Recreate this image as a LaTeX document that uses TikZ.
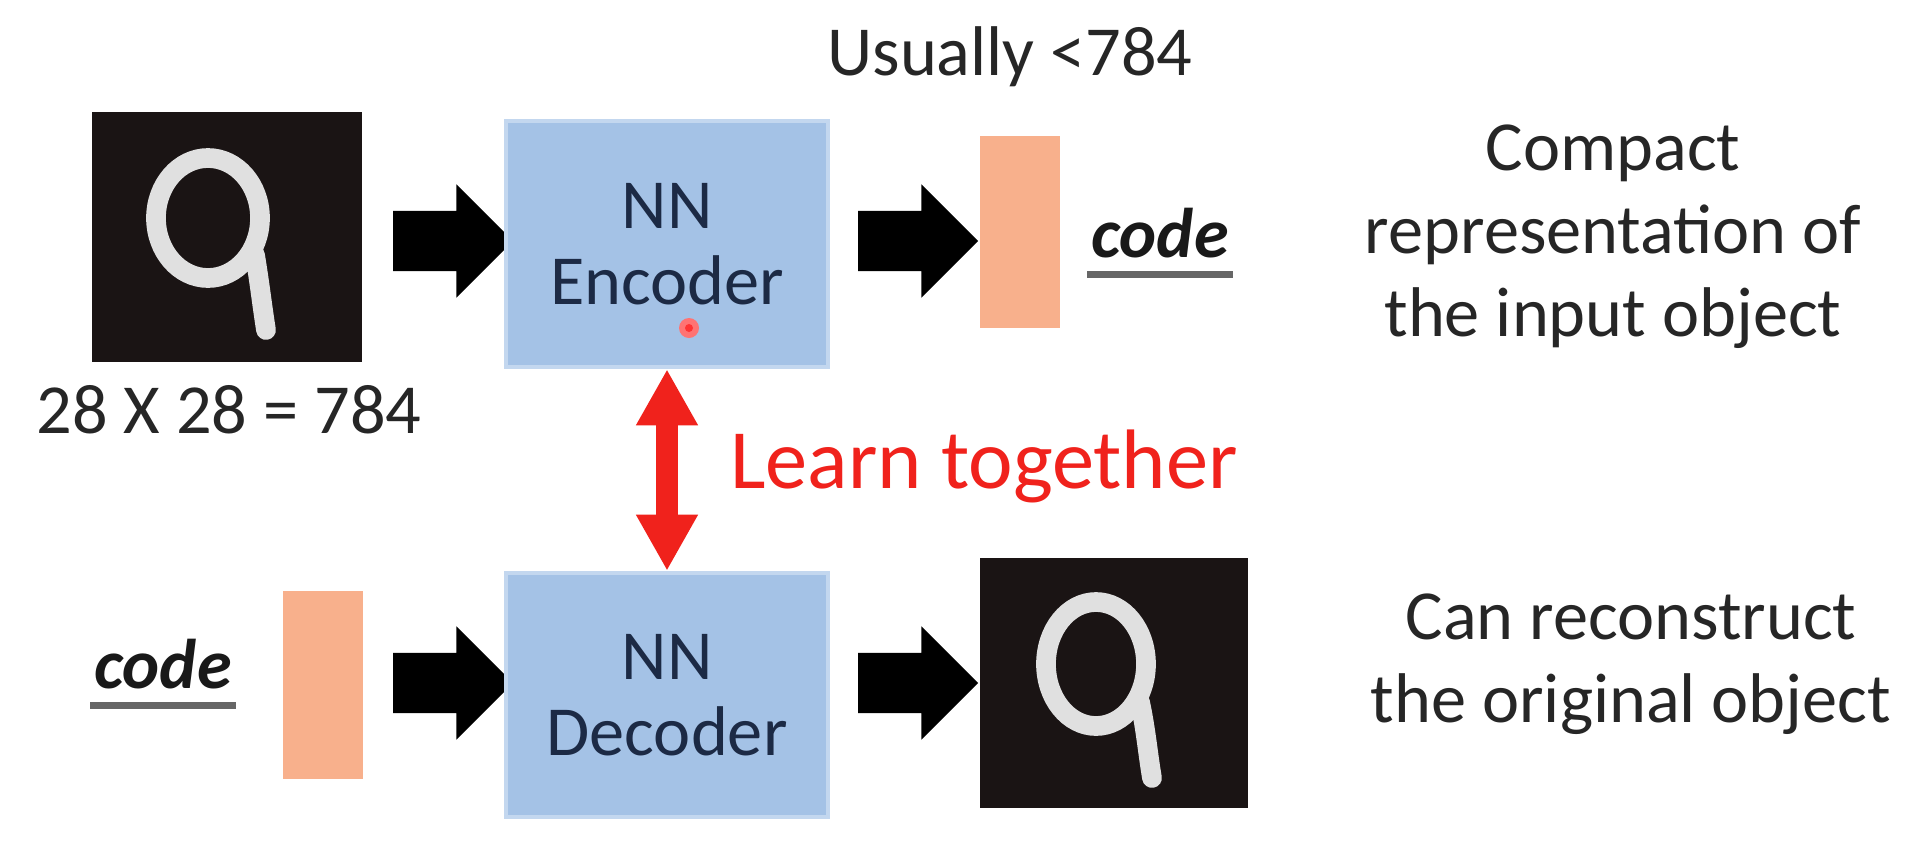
\documentclass[tikz,border=0pt]{standalone}
\usepackage{fontspec}
\setmainfont{Carlito}
\usetikzlibrary{shapes.arrows,arrows.meta}
\definecolor{boxblue}{HTML}{A4C2E6}
\definecolor{boxedge}{HTML}{C3D7EF}
\definecolor{codeor}{HTML}{F8B08C}
\definecolor{lred}{HTML}{F0221C}
\definecolor{navy}{HTML}{1C2A45}
\definecolor{picbg}{HTML}{1A1414}
\begin{document}
\begin{tikzpicture}[x=0.01cm,y=-0.01cm,
  txt/.style={font=\fontsize{20}{23.6}\selectfont, inner sep=0pt, align=center, text=black!85},
  nnbox/.style={draw=boxedge, line width=1.2pt, fill=boxblue, minimum width=3.22cm, minimum height=2.46cm, inner sep=0pt, font=\fontsize{20}{21.6}\selectfont, align=center, text=navy},
  blk/.style={single arrow, fill=black, minimum width=1.12cm, minimum height=1.2cm, inner xsep=0pt, inner ysep=0.295cm, single arrow head extend=0.265cm, single arrow head indent=0cm},
  codebar/.style={fill=codeor, minimum width=0.8cm, minimum height=1.91cm, inner sep=0pt},
  codetxt/.style={font=\fontsize{20}{24}\selectfont\bfseries\itshape, inner sep=1pt, text=black!90},
  digit/.style={white!88!black, line width=5.6pt, line cap=round},
  pic/.style={fill=picbg, inner sep=0pt}
]
\useasboundingbox (0,0) rectangle (1930,842);
\fill[white] (0,0) rectangle (1930,842);
% top image
\node[pic, minimum width=2.70cm, minimum height=2.49cm] (img1) at (227,237) {};
\draw[digit] (208,218) ellipse[x radius=52, y radius=60];
\draw[digit] (255,255) .. controls (260,285) and (262,305) .. (266,330);
\node[blk] (a1) at (438,241) {};
\node[nnbox] (enc) at (667,244) {NN\\Encoder};
\fill[red!55] (689,328) circle[radius=10];
\fill[red!80] (689,328) circle[radius=4];
\node[blk] (a2) at (903,241) {};
\node[codebar] (c1) at (1020,232) {};
\node[codetxt] (ct1) at (1160,233) {code};
\draw[black!60, line width=1.8pt] ([yshift=-3.5pt]ct1.south west) -- ([yshift=-3.5pt]ct1.south east);
\node[txt] (us) at (1010,57) {Usually <784};
\node[txt] (cmp) at (1613,237) {Compact\\representation of\\the input object};
\node[txt] (dim) at (229,410) {28 X 28 = 784};
% bottom
\node[codetxt] (ct2) at (163,664) {code};
\draw[black!60, line width=1.8pt] ([yshift=-3.5pt]ct2.south west) -- ([yshift=-3.5pt]ct2.south east);
\node[codebar, minimum height=1.88cm] (c2) at (323,685) {};
\node[blk] (a3) at (438,683) {};
\node[nnbox, minimum height=2.44cm] (dec) at (667,695) {NN\\Decoder};
\node[blk] (a4) at (903,683) {};
\node[pic, minimum width=2.68cm, minimum height=2.50cm] (img2) at (1114,683) {};
\draw[digit] (1096,664) ellipse[x radius=50, y radius=62];
\draw[digit] (1140,702) .. controls (1146,730) and (1148,755) .. (1152,778);
\node[txt] (rec) at (1631,664) {Can reconstruct\\the original object};
% learn together
\draw[lred, line width=6pt, {Triangle[length=16pt,width=16.5pt]}-{Triangle[length=16pt,width=16.5pt]}] (enc.south) -- (dec.north);
\node[txt, text=lred, font=\fontsize{24}{28}\selectfont] (lt) at (984,466) {Learn together};
\end{tikzpicture}
\end{document}
